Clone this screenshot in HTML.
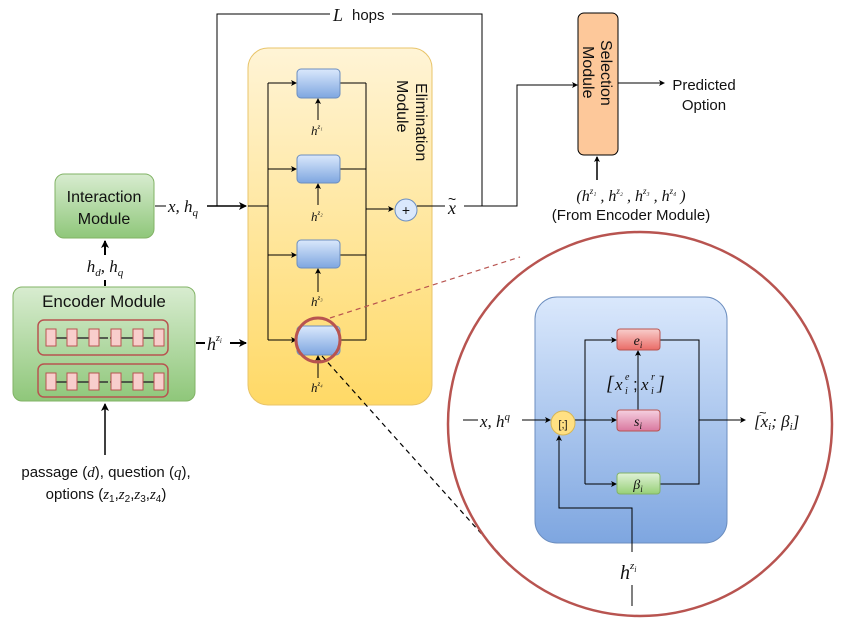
<!DOCTYPE html>
<html><head><meta charset="utf-8"><style>
html,body{margin:0;padding:0;background:#fff;}
svg{display:block;}
text{font-family:"Liberation Sans",sans-serif;fill:#111;}
.m{font-family:"Liberation Serif",serif;font-style:italic;}
</style></head><body>
<svg width="860" height="620" viewBox="0 0 860 620" xmlns="http://www.w3.org/2000/svg">
<defs>
<linearGradient id="g" x1="0" y1="0" x2="0" y2="1"><stop offset="0" stop-color="#d8ecd0"/><stop offset="1" stop-color="#8fc77a"/></linearGradient>
<linearGradient id="y" x1="0" y1="0" x2="0" y2="1"><stop offset="0" stop-color="#fff4d6"/><stop offset="1" stop-color="#ffd966"/></linearGradient>
<linearGradient id="b" x1="0" y1="0" x2="0" y2="1"><stop offset="0" stop-color="#dae8fc"/><stop offset="1" stop-color="#7ea6e0"/></linearGradient>
<linearGradient id="sb" x1="0" y1="0" x2="0" y2="1"><stop offset="0" stop-color="#dae8fc"/><stop offset="1" stop-color="#7ea6e0"/></linearGradient>
<linearGradient id="r" x1="0" y1="0" x2="0" y2="1"><stop offset="0" stop-color="#f8cecc"/><stop offset="1" stop-color="#ea6b66"/></linearGradient>
<linearGradient id="p" x1="0" y1="0" x2="0" y2="1"><stop offset="0" stop-color="#f5d0e0"/><stop offset="1" stop-color="#d9789f"/></linearGradient>
<linearGradient id="gg" x1="0" y1="0" x2="0" y2="1"><stop offset="0" stop-color="#e0f2d8"/><stop offset="1" stop-color="#97d077"/></linearGradient>
<marker id="a" markerWidth="8" markerHeight="8" refX="7" refY="4" orient="auto" markerUnits="userSpaceOnUse"><path d="M0,0 L8,4 L0,8 L2,4 z" fill="#000"/></marker>
<marker id="as" markerWidth="6" markerHeight="6" refX="5" refY="3" orient="auto" markerUnits="userSpaceOnUse"><path d="M0,0 L6,3 L0,6 L1.5,3 z" fill="#000"/></marker>
</defs>

<!-- Interaction -->
<rect x="55" y="174" width="99" height="64" rx="9" fill="url(#g)" stroke="#82b366"/>
<text x="104" y="202" font-size="16" text-anchor="middle">Interaction</text>
<text x="104" y="224" font-size="16" text-anchor="middle">Module</text>
<!-- Encoder -->
<rect x="13" y="287" width="182" height="114" rx="9" fill="url(#g)" stroke="#82b366"/>
<text x="104" y="307" font-size="17" text-anchor="middle">Encoder Module</text>
<rect x="38" y="320" width="130" height="35" rx="6" fill="none" stroke="#b85450" stroke-width="1.5"/>
<rect x="38" y="364" width="130" height="33" rx="6" fill="none" stroke="#b85450" stroke-width="1.5"/>
<g stroke="#333" stroke-width="1.5">
<line x1="51" y1="338" x2="106" y2="338"/><line x1="118" y1="338" x2="160" y2="338"/><line x1="106" y1="338" x2="118" y2="338" stroke-dasharray="2,2"/>
<line x1="51" y1="382" x2="106" y2="382"/><line x1="118" y1="382" x2="160" y2="382"/><line x1="106" y1="382" x2="118" y2="382" stroke-dasharray="2,2"/>
</g>
<g fill="#f8cecc" stroke="#b85450">
<rect x="46" y="329" width="10" height="17"/><rect x="67" y="329" width="10" height="17"/><rect x="89" y="329" width="10" height="17"/><rect x="111" y="329" width="10" height="17"/><rect x="133" y="329" width="10" height="17"/><rect x="154" y="329" width="10" height="17"/>
<rect x="46" y="373" width="10" height="17"/><rect x="67" y="373" width="10" height="17"/><rect x="89" y="373" width="10" height="17"/><rect x="111" y="373" width="10" height="17"/><rect x="133" y="373" width="10" height="17"/><rect x="154" y="373" width="10" height="17"/>
</g>
<line x1="105" y1="286" x2="105" y2="280" stroke="#000" stroke-width="2"/>
<line x1="105" y1="255" x2="105" y2="241" stroke="#000" stroke-width="2" marker-end="url(#a)"/>
<text x="105" y="272" font-size="17" class="m" text-anchor="middle">h<tspan font-size="11" dy="4">d</tspan><tspan dy="-4">, h</tspan><tspan font-size="11" dy="4">q</tspan></text>
<line x1="105" y1="455" x2="105" y2="404" stroke="#000" stroke-width="1.5" marker-end="url(#a)"/>
<text x="106" y="477" font-size="15" text-anchor="middle">passage (<tspan class="m">d</tspan>), question (<tspan class="m">q</tspan>),</text>
<text x="106" y="499" font-size="15" text-anchor="middle">options (<tspan class="m">z</tspan><tspan font-size="10" dy="3">1</tspan><tspan dy="-3">,</tspan><tspan class="m">z</tspan><tspan font-size="10" dy="3">2</tspan><tspan dy="-3">,</tspan><tspan class="m">z</tspan><tspan font-size="10" dy="3">3</tspan><tspan dy="-3">,</tspan><tspan class="m">z</tspan><tspan font-size="10" dy="3">4</tspan><tspan dy="-3">)</tspan></text>

<!-- x,hq -->
<line x1="155" y1="206" x2="166" y2="206" stroke="#000"/>
<text x="168" y="212" font-size="17" class="m">x, h<tspan font-size="11" dy="4">q</tspan></text>
<line x1="207" y1="206" x2="246" y2="206" stroke="#000" stroke-width="1.5" marker-end="url(#a)"/>
<!-- h^zi -->
<line x1="196" y1="343" x2="205" y2="343" stroke="#000" stroke-width="2"/>
<text x="207" y="350" font-size="18" class="m">h<tspan font-size="10" dy="-9">z</tspan><tspan font-size="7" dy="2">i</tspan></text>
<line x1="230" y1="343" x2="246" y2="343" stroke="#000" stroke-width="2" marker-end="url(#a)"/>

<!-- L hops loop -->
<polyline points="217,206 217,14 330,14" fill="none" stroke="#000"/>
<polyline points="392,14 482,14 482,206" fill="none" stroke="#000"/>
<text x="333" y="21" font-size="18" class="m">L</text><text x="352" y="20" font-size="15">hops</text>

<!-- Elimination -->
<rect x="248" y="48" width="184" height="357" rx="20" fill="url(#y)" stroke="#e8c46a"/>
<text font-size="16" transform="translate(397,80) rotate(90)">Module</text>
<text font-size="16" transform="translate(416,83) rotate(90)">Elimination</text>
<g stroke="#000" fill="none">
<line x1="248" y1="206" x2="268" y2="206"/>
<line x1="268" y1="83" x2="268" y2="340"/>
<line x1="366" y1="83" x2="366" y2="340"/>
<line x1="268" y1="83" x2="296" y2="83" marker-end="url(#as)"/>
<line x1="268" y1="169" x2="296" y2="169" marker-end="url(#as)"/>
<line x1="268" y1="255" x2="296" y2="255" marker-end="url(#as)"/>
<line x1="268" y1="340" x2="296" y2="340" marker-end="url(#as)"/>
<line x1="340" y1="83" x2="366" y2="83"/><line x1="340" y1="169" x2="366" y2="169"/><line x1="340" y1="255" x2="366" y2="255"/><line x1="340" y1="340" x2="366" y2="340"/>
<line x1="366" y1="209" x2="393" y2="209" marker-end="url(#as)"/>
<line x1="318" y1="120" x2="318" y2="99" marker-end="url(#as)"/>
<line x1="318" y1="205" x2="318" y2="184" marker-end="url(#as)"/>
<line x1="318" y1="292" x2="318" y2="269" marker-end="url(#as)"/>
<line x1="318" y1="378" x2="318" y2="356" marker-end="url(#as)"/>
</g>
<g fill="url(#sb)" stroke="#6c8ebf">
<rect x="297" y="69" width="43" height="29" rx="4"/>
<rect x="297" y="155" width="43" height="28" rx="4"/>
<rect x="297" y="240" width="43" height="28" rx="4"/>
<rect x="297" y="326" width="43" height="29" rx="4"/>
</g>
<g font-size="13" class="m">
<text x="311" y="135" class="m">h<tspan font-size="7" dy="-6">z₁</tspan></text>
<text x="311" y="221" class="m">h<tspan font-size="7" dy="-6">z₂</tspan></text>
<text x="311" y="306" class="m">h<tspan font-size="7" dy="-6">z₃</tspan></text>
<text x="311" y="392" class="m">h<tspan font-size="7" dy="-6">z₄</tspan></text>
</g>
<circle cx="406" cy="210" r="11" fill="#dae8fc" stroke="#6c8ebf"/>
<text x="406" y="215" font-size="14" text-anchor="middle">+</text>
<line x1="417" y1="206" x2="445" y2="206" stroke="#000"/>
<text x="448" y="214" font-size="18" class="m">x</text><text x="448" y="204" font-size="14">~</text>
<line x1="464" y1="206" x2="482" y2="206" stroke="#000"/>
<polyline points="482,206 517,206 517,85 577,85" fill="none" stroke="#000" marker-end="url(#as)"/>

<!-- Selection -->
<rect x="578" y="13" width="40" height="142" rx="6" fill="#fdc89a" stroke="#000"/>
<text font-size="16" transform="translate(601,40) rotate(90)">Selection</text>
<text font-size="16" transform="translate(583,46) rotate(90)">Module</text>
<line x1="618" y1="83" x2="664" y2="83" stroke="#000" marker-end="url(#as)"/>
<text x="704" y="90" font-size="15" text-anchor="middle">Predicted</text>
<text x="704" y="110" font-size="15" text-anchor="middle">Option</text>
<line x1="597" y1="180" x2="597" y2="157" stroke="#000" stroke-width="1.5" marker-end="url(#as)"/>
<text x="631" y="201" font-size="16" class="m" text-anchor="middle">(h<tspan font-size="9" dy="-7">z₁</tspan><tspan dy="7"> , h</tspan><tspan font-size="9" dy="-7">z₂</tspan><tspan dy="7"> , h</tspan><tspan font-size="9" dy="-7">z₃</tspan><tspan dy="7"> , h</tspan><tspan font-size="9" dy="-7">z₄</tspan><tspan dy="7"> )</tspan></text>
<text x="631" y="220" font-size="15" text-anchor="middle">(From Encoder Module)</text>

<!-- zoom circles -->
<circle cx="318" cy="340" r="22" fill="none" stroke="#b85450" stroke-width="3"/>
<line x1="330" y1="318" x2="520" y2="257" stroke="#b85450" stroke-dasharray="5,4" stroke-width="1.2"/>
<line x1="322" y1="356" x2="505" y2="560" stroke="#000" stroke-dasharray="5,4" stroke-width="1.2"/>
<circle cx="640" cy="424" r="192" fill="none" stroke="#b85450" stroke-width="2.5"/>

<!-- inner -->
<rect x="535" y="297" width="192" height="246" rx="22" fill="url(#b)" stroke="#6c8ebf"/>
<g stroke="#000" fill="none">
<line x1="463" y1="420" x2="478" y2="420"/>
<line x1="522" y1="420" x2="550" y2="420" marker-end="url(#as)"/>
<line x1="575" y1="420" x2="616" y2="420" marker-end="url(#as)"/>
<polyline points="585,484 585,340 616,340" marker-end="url(#as)"/>
<line x1="585" y1="484" x2="616" y2="484" marker-end="url(#as)"/>
<line x1="638" y1="410" x2="638" y2="351" marker-end="url(#as)"/>
<polyline points="660,340 699,340 699,484 660,484"/>
<line x1="699" y1="420" x2="745" y2="420" marker-end="url(#as)"/>
<polyline points="632,552 632,508 559,508 559,436" marker-end="url(#as)"/>
<line x1="632" y1="585" x2="632" y2="606"/>
</g>
<text x="480" y="427" font-size="17" class="m">x, h<tspan font-size="11" dy="-7">q</tspan></text>
<circle cx="563" cy="423" r="12" fill="#ffe083" stroke="#d6b656"/>
<text x="563" y="428" font-size="11" text-anchor="middle">[;]</text>
<rect x="617" y="329" width="43" height="21" rx="3" fill="url(#r)" stroke="#b85450"/>
<text x="638" y="345" font-size="14" class="m" text-anchor="middle">e<tspan font-size="9" dy="3">i</tspan></text>
<rect x="617" y="410" width="43" height="21" rx="3" fill="url(#p)" stroke="#b85450"/>
<text x="638" y="426" font-size="14" class="m" text-anchor="middle">s<tspan font-size="9" dy="3">i</tspan></text>
<rect x="617" y="473" width="43" height="21" rx="3" fill="url(#gg)" stroke="#82b366"/>
<text x="638" y="489" font-size="14" class="m" text-anchor="middle">β<tspan font-size="9" dy="3">i</tspan></text>
<text x="606" y="390" font-size="20" class="m">[</text>
<text x="615" y="390" font-size="17" class="m">x</text><text x="625" y="380" font-size="10" class="m">e</text><text x="625" y="394" font-size="10" class="m">i</text>
<text x="633" y="390" font-size="17">;</text>
<text x="641" y="390" font-size="17" class="m">x</text><text x="651" y="380" font-size="10" class="m">r</text><text x="651" y="394" font-size="10" class="m">i</text>
<text x="657" y="390" font-size="20" class="m">]</text>
<text x="754" y="427" font-size="17" class="m">[x<tspan font-size="11" dy="3">i</tspan><tspan dy="-3">; β</tspan><tspan font-size="11" dy="3">i</tspan><tspan dy="-3">]</tspan></text>
<text x="759" y="417" font-size="13">~</text>
<text x="620" y="579" font-size="20" class="m">h<tspan font-size="11" dy="-10">z</tspan><tspan font-size="8" dy="3">i</tspan></text>
</svg>
</body></html>
